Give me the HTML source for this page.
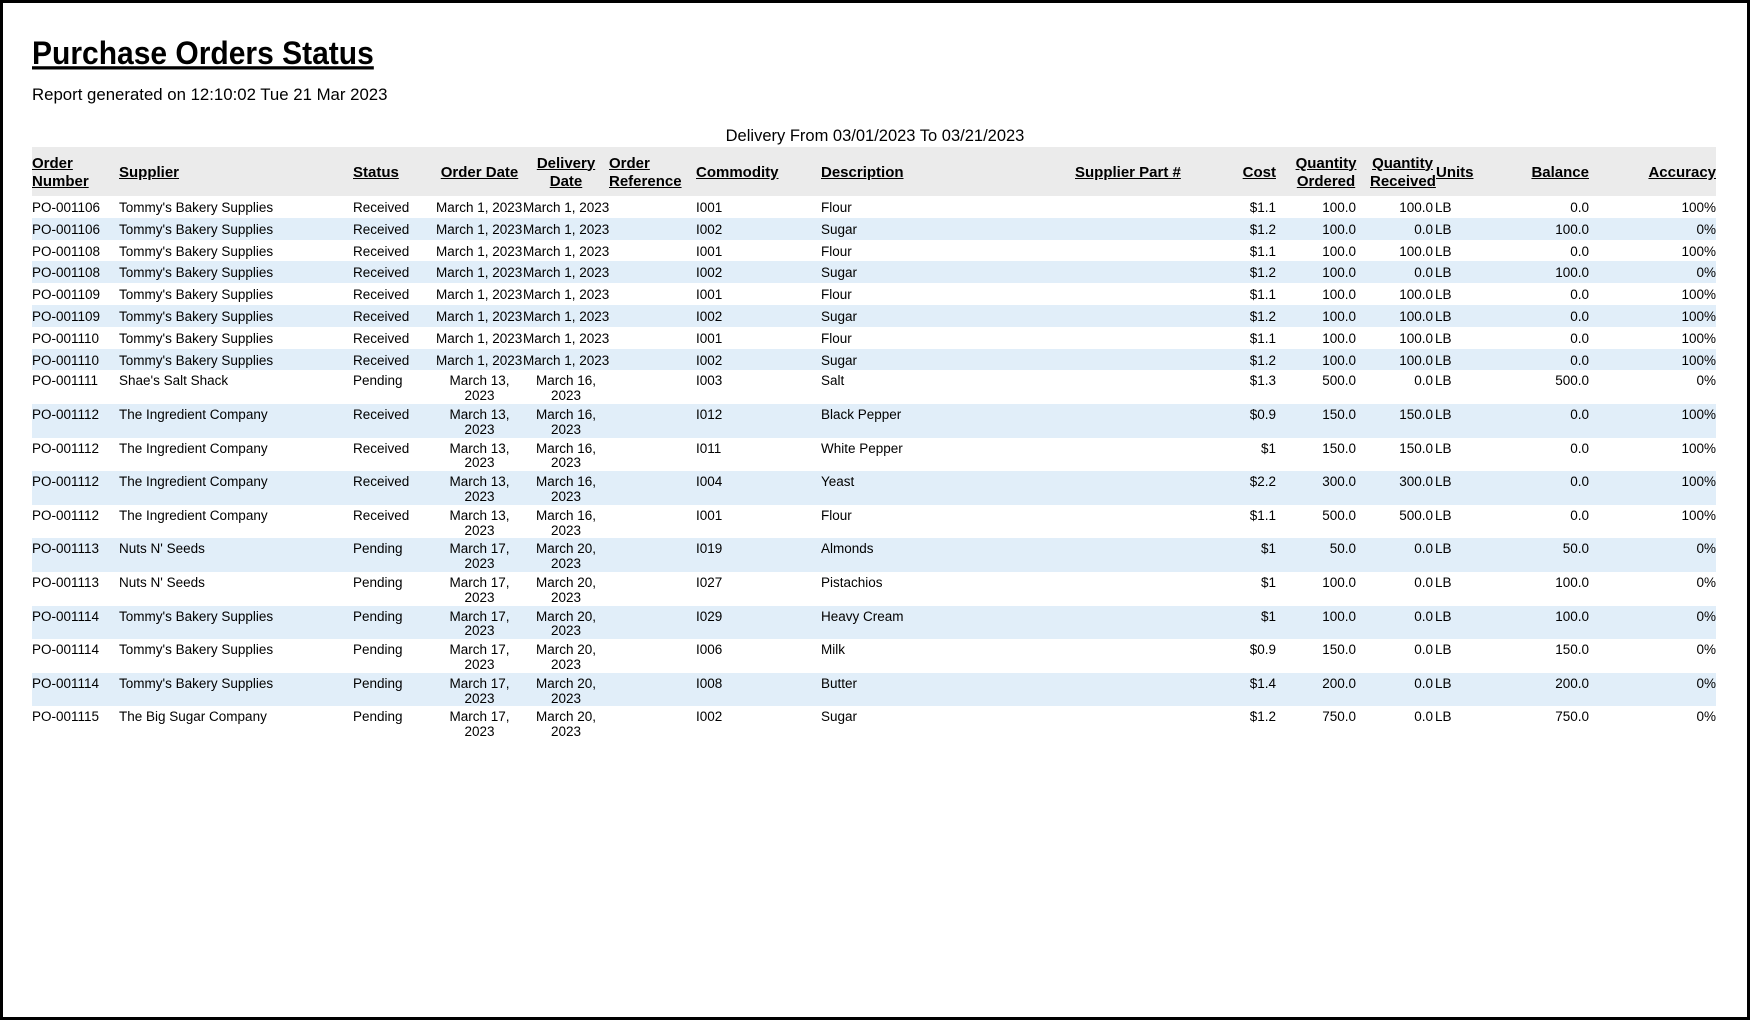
<!DOCTYPE html>
<html><head><meta charset="utf-8"><style>
*{margin:0;padding:0;box-sizing:border-box}
html,body{width:1750px;height:1020px;overflow:hidden;background:#fff}
body{border:3px solid #000;position:relative;font-family:"Liberation Sans",Arial,sans-serif;color:#000}
.title{position:absolute;left:29px;top:33px;font-size:30px;font-weight:bold;text-decoration:underline;line-height:34px;white-space:nowrap;transform:scaleY(1.08);transform-origin:left top}
.rep{position:absolute;left:29px;top:82px;font-size:16.8px;line-height:20px;white-space:nowrap}
.del{position:absolute;left:0;width:1744px;text-align:center;top:123px;font-size:16.5px;line-height:20px}
table{position:absolute;left:29px;top:144px;border-collapse:collapse;table-layout:fixed;width:1684px}
th{background:#ebebeb;font-size:15px;font-weight:bold;text-decoration:underline;line-height:18.5px;height:49px;vertical-align:middle;padding:3px 0 0 0;white-space:nowrap}
td{font-size:13.5px;line-height:13.5px;vertical-align:top;padding:5px 0 0 0;white-space:nowrap}
tr.s td{height:21.8px}
tr.d td{height:33.2px;padding-top:4px;line-height:14.8px}
tr.b td{background:#e1eef9}
.l{text-align:left}.c{text-align:center}.r{text-align:right;padding-right:2px}
td.r{padding-right:2px}
td.bal{padding-right:0}
</style></head><body>
<div class="title">Purchase Orders Status</div>
<div class="rep">Report generated on 12:10:02 Tue 21 Mar 2023</div>
<div class="del">Delivery From 03/01/2023 To 03/21/2023</div>
<table>
<colgroup><col style="width:87px"><col style="width:234px"><col style="width:83px"><col style="width:87px"><col style="width:86px"><col style="width:87px"><col style="width:125px"><col style="width:254px"><col style="width:155px"><col style="width:50px"><col style="width:78px"><col style="width:77px"><col style="width:65px"><col style="width:89px"><col style="width:127px"></colgroup>
<tr><th class="l">Order<br>Number</th><th class="l">Supplier</th><th class="l">Status</th><th class="c">Order Date</th><th class="c">Delivery<br>Date</th><th class="l">Order<br>Reference</th><th class="l">Commodity</th><th class="l">Description</th><th class="l">Supplier Part #</th><th style="text-align:right;padding-right:4px">Cost</th><th class="c" style="padding-left:14px">Quantity<br>Ordered</th><th class="c" style="padding-left:12px">Quantity<br>Received</th><th class="l" style="padding-left:1px">Units</th><th class="r" style="padding-right:0">Balance</th><th class="r" style="padding-right:0">Accuracy</th></tr>
<tr class="s"><td>PO-001106</td><td>Tommy's Bakery Supplies</td><td>Received</td><td>March 1, 2023</td><td>March 1, 2023</td><td></td><td>I001</td><td>Flour</td><td></td><td class="r" style="padding-right:4px">$1.1</td><td class="r">100.0</td><td class="r">100.0</td><td>LB</td><td class="r bal">0.0</td><td class="r" style="padding-right:0">100%</td></tr>
<tr class="s b"><td>PO-001106</td><td>Tommy's Bakery Supplies</td><td>Received</td><td>March 1, 2023</td><td>March 1, 2023</td><td></td><td>I002</td><td>Sugar</td><td></td><td class="r" style="padding-right:4px">$1.2</td><td class="r">100.0</td><td class="r">0.0</td><td>LB</td><td class="r bal">100.0</td><td class="r" style="padding-right:0">0%</td></tr>
<tr class="s"><td>PO-001108</td><td>Tommy's Bakery Supplies</td><td>Received</td><td>March 1, 2023</td><td>March 1, 2023</td><td></td><td>I001</td><td>Flour</td><td></td><td class="r" style="padding-right:4px">$1.1</td><td class="r">100.0</td><td class="r">100.0</td><td>LB</td><td class="r bal">0.0</td><td class="r" style="padding-right:0">100%</td></tr>
<tr class="s b"><td>PO-001108</td><td>Tommy's Bakery Supplies</td><td>Received</td><td>March 1, 2023</td><td>March 1, 2023</td><td></td><td>I002</td><td>Sugar</td><td></td><td class="r" style="padding-right:4px">$1.2</td><td class="r">100.0</td><td class="r">0.0</td><td>LB</td><td class="r bal">100.0</td><td class="r" style="padding-right:0">0%</td></tr>
<tr class="s"><td>PO-001109</td><td>Tommy's Bakery Supplies</td><td>Received</td><td>March 1, 2023</td><td>March 1, 2023</td><td></td><td>I001</td><td>Flour</td><td></td><td class="r" style="padding-right:4px">$1.1</td><td class="r">100.0</td><td class="r">100.0</td><td>LB</td><td class="r bal">0.0</td><td class="r" style="padding-right:0">100%</td></tr>
<tr class="s b"><td>PO-001109</td><td>Tommy's Bakery Supplies</td><td>Received</td><td>March 1, 2023</td><td>March 1, 2023</td><td></td><td>I002</td><td>Sugar</td><td></td><td class="r" style="padding-right:4px">$1.2</td><td class="r">100.0</td><td class="r">100.0</td><td>LB</td><td class="r bal">0.0</td><td class="r" style="padding-right:0">100%</td></tr>
<tr class="s"><td>PO-001110</td><td>Tommy's Bakery Supplies</td><td>Received</td><td>March 1, 2023</td><td>March 1, 2023</td><td></td><td>I001</td><td>Flour</td><td></td><td class="r" style="padding-right:4px">$1.1</td><td class="r">100.0</td><td class="r">100.0</td><td>LB</td><td class="r bal">0.0</td><td class="r" style="padding-right:0">100%</td></tr>
<tr class="s b"><td>PO-001110</td><td>Tommy's Bakery Supplies</td><td>Received</td><td>March 1, 2023</td><td>March 1, 2023</td><td></td><td>I002</td><td>Sugar</td><td></td><td class="r" style="padding-right:4px">$1.2</td><td class="r">100.0</td><td class="r">100.0</td><td>LB</td><td class="r bal">0.0</td><td class="r" style="padding-right:0">100%</td></tr>
<tr class="d"><td>PO-001111</td><td>Shae's Salt Shack</td><td>Pending</td><td class="c">March 13,<br>2023</td><td class="c">March 16,<br>2023</td><td></td><td>I003</td><td>Salt</td><td></td><td class="r" style="padding-right:4px">$1.3</td><td class="r">500.0</td><td class="r">0.0</td><td>LB</td><td class="r bal">500.0</td><td class="r" style="padding-right:0">0%</td></tr>
<tr class="d b"><td>PO-001112</td><td>The Ingredient Company</td><td>Received</td><td class="c">March 13,<br>2023</td><td class="c">March 16,<br>2023</td><td></td><td>I012</td><td>Black Pepper</td><td></td><td class="r" style="padding-right:4px">$0.9</td><td class="r">150.0</td><td class="r">150.0</td><td>LB</td><td class="r bal">0.0</td><td class="r" style="padding-right:0">100%</td></tr>
<tr class="d"><td>PO-001112</td><td>The Ingredient Company</td><td>Received</td><td class="c">March 13,<br>2023</td><td class="c">March 16,<br>2023</td><td></td><td>I011</td><td>White Pepper</td><td></td><td class="r" style="padding-right:4px">$1</td><td class="r">150.0</td><td class="r">150.0</td><td>LB</td><td class="r bal">0.0</td><td class="r" style="padding-right:0">100%</td></tr>
<tr class="d b"><td>PO-001112</td><td>The Ingredient Company</td><td>Received</td><td class="c">March 13,<br>2023</td><td class="c">March 16,<br>2023</td><td></td><td>I004</td><td>Yeast</td><td></td><td class="r" style="padding-right:4px">$2.2</td><td class="r">300.0</td><td class="r">300.0</td><td>LB</td><td class="r bal">0.0</td><td class="r" style="padding-right:0">100%</td></tr>
<tr class="d"><td>PO-001112</td><td>The Ingredient Company</td><td>Received</td><td class="c">March 13,<br>2023</td><td class="c">March 16,<br>2023</td><td></td><td>I001</td><td>Flour</td><td></td><td class="r" style="padding-right:4px">$1.1</td><td class="r">500.0</td><td class="r">500.0</td><td>LB</td><td class="r bal">0.0</td><td class="r" style="padding-right:0">100%</td></tr>
<tr class="d b"><td>PO-001113</td><td>Nuts N' Seeds</td><td>Pending</td><td class="c">March 17,<br>2023</td><td class="c">March 20,<br>2023</td><td></td><td>I019</td><td>Almonds</td><td></td><td class="r" style="padding-right:4px">$1</td><td class="r">50.0</td><td class="r">0.0</td><td>LB</td><td class="r bal">50.0</td><td class="r" style="padding-right:0">0%</td></tr>
<tr class="d"><td>PO-001113</td><td>Nuts N' Seeds</td><td>Pending</td><td class="c">March 17,<br>2023</td><td class="c">March 20,<br>2023</td><td></td><td>I027</td><td>Pistachios</td><td></td><td class="r" style="padding-right:4px">$1</td><td class="r">100.0</td><td class="r">0.0</td><td>LB</td><td class="r bal">100.0</td><td class="r" style="padding-right:0">0%</td></tr>
<tr class="d b"><td>PO-001114</td><td>Tommy's Bakery Supplies</td><td>Pending</td><td class="c">March 17,<br>2023</td><td class="c">March 20,<br>2023</td><td></td><td>I029</td><td>Heavy Cream</td><td></td><td class="r" style="padding-right:4px">$1</td><td class="r">100.0</td><td class="r">0.0</td><td>LB</td><td class="r bal">100.0</td><td class="r" style="padding-right:0">0%</td></tr>
<tr class="d"><td>PO-001114</td><td>Tommy's Bakery Supplies</td><td>Pending</td><td class="c">March 17,<br>2023</td><td class="c">March 20,<br>2023</td><td></td><td>I006</td><td>Milk</td><td></td><td class="r" style="padding-right:4px">$0.9</td><td class="r">150.0</td><td class="r">0.0</td><td>LB</td><td class="r bal">150.0</td><td class="r" style="padding-right:0">0%</td></tr>
<tr class="d b"><td>PO-001114</td><td>Tommy's Bakery Supplies</td><td>Pending</td><td class="c">March 17,<br>2023</td><td class="c">March 20,<br>2023</td><td></td><td>I008</td><td>Butter</td><td></td><td class="r" style="padding-right:4px">$1.4</td><td class="r">200.0</td><td class="r">0.0</td><td>LB</td><td class="r bal">200.0</td><td class="r" style="padding-right:0">0%</td></tr>
<tr class="d"><td>PO-001115</td><td>The Big Sugar Company</td><td>Pending</td><td class="c">March 17,<br>2023</td><td class="c">March 20,<br>2023</td><td></td><td>I002</td><td>Sugar</td><td></td><td class="r" style="padding-right:4px">$1.2</td><td class="r">750.0</td><td class="r">0.0</td><td>LB</td><td class="r bal">750.0</td><td class="r" style="padding-right:0">0%</td></tr>
</table>
</body></html>
